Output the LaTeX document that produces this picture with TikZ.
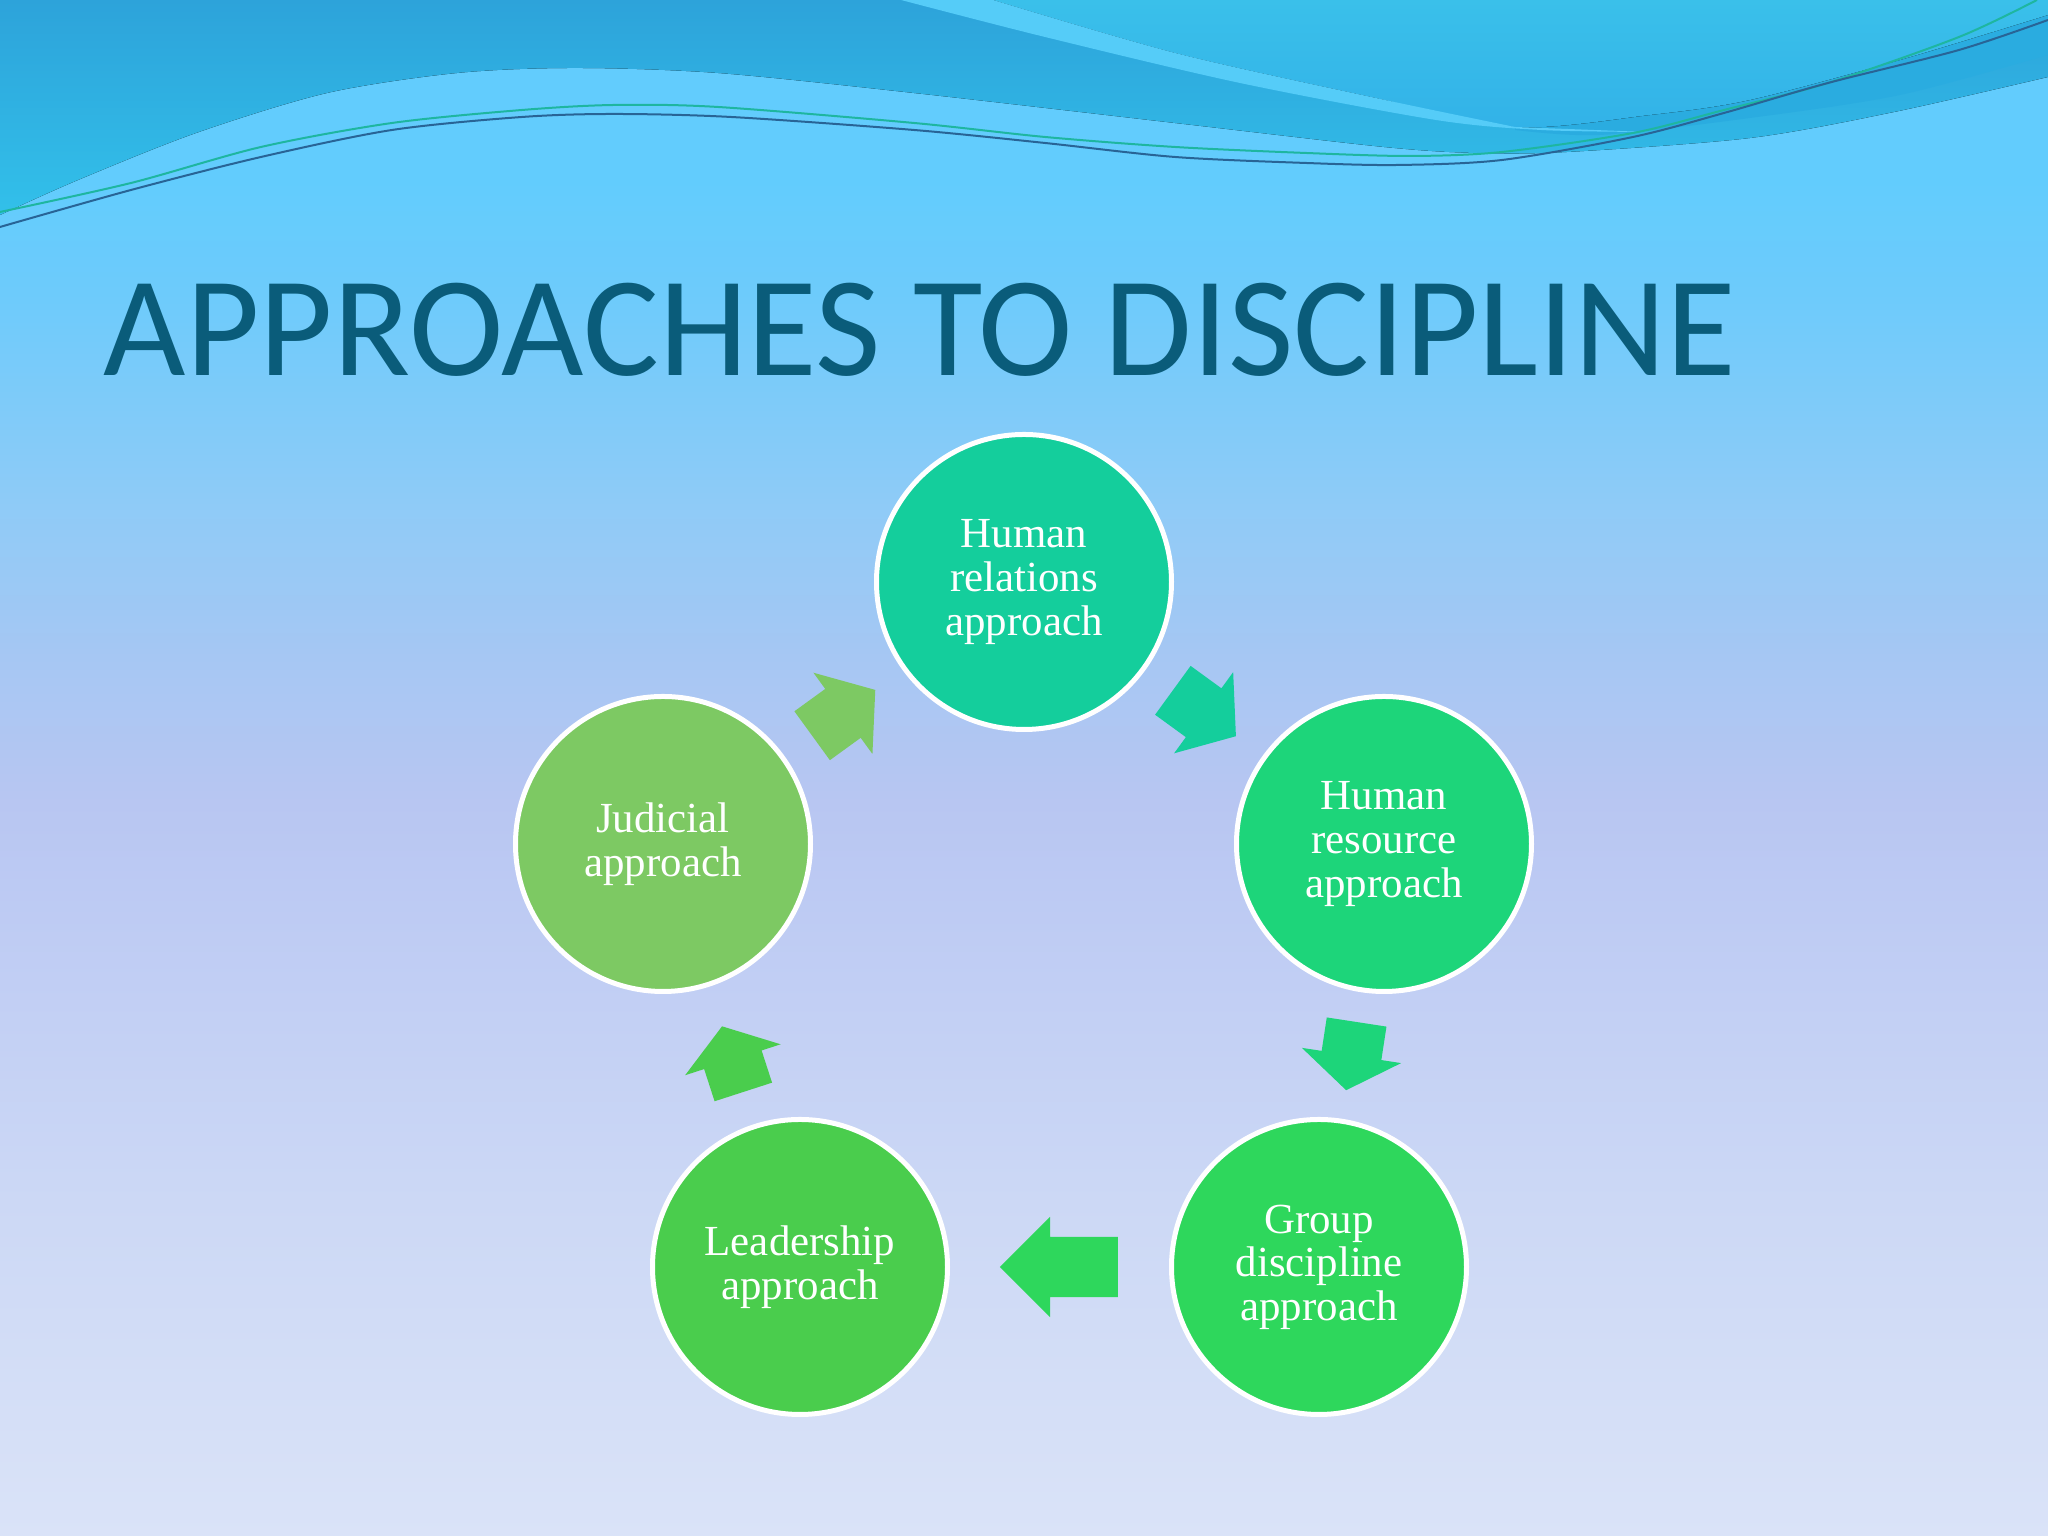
\documentclass[tikz,border=0pt]{standalone}
\usepackage{fontspec}
\setmainfont{Liberation Serif}
\newfontfamily\titlefont{Carlito}
\usetikzlibrary{shapes.arrows,calc}

\definecolor{bga}{RGB}{98,204,253}
\definecolor{bgb}{RGB}{110,203,251}
\definecolor{bgc}{RGB}{142,203,247}
\definecolor{bgd}{RGB}{165,199,243}
\definecolor{bge}{RGB}{184,198,242}
\definecolor{bgf}{RGB}{194,207,244}
\definecolor{bgg}{RGB}{204,216,245}
\definecolor{bgh}{RGB}{218,227,248}
\definecolor{wavetop}{RGB}{45,163,218}
\definecolor{wavebot}{RGB}{50,192,234}
\definecolor{topright}{RGB}{58,192,234}
\definecolor{toprightb}{RGB}{50,178,232}
\definecolor{crescc}{RGB}{85,204,248}
\definecolor{bandc}{RGB}{42,172,224}
\definecolor{lineg}{RGB}{30,182,160}
\definecolor{lineb}{RGB}{40,100,150}
\definecolor{titlec}{RGB}{10,92,122}
\definecolor{relc}{RGB}{20,206,156}
\definecolor{resc}{RGB}{29,213,122}
\definecolor{grpc}{RGB}{46,215,92}
\definecolor{leadc}{RGB}{74,205,77}
\definecolor{judc}{RGB}{125,201,99}

\newcommand{\apnode}[4]{\node [approach, fill=#4] (#1) at (#2) {#3}}

\tikzset{
  approach/.style={circle, draw=white, line width=0.05cm, minimum size=2.95cm,
    inner sep=0pt, text=white, align=center, font=\fontsize{12.2}{12.4}\selectfont},
  blockarrow/.style={single arrow, draw=none, fill=#1, minimum width=0.99cm,
    inner xsep=0pt, inner ysep=0.295cm, single arrow head extend=0.2cm,
    sloped, allow upside down, anchor=tail, pos=0.23},
}

\begin{document}
\begin{tikzpicture}

\useasboundingbox (0,0) rectangle (20.48,15.36);
\clip (0,0) rectangle (20.48,15.36);

% background
\foreach \ya/\yb/\ca/\cb in {15.36/13.56/bga/bga, 13.56/12.36/bga/bgb,
    12.36/10.36/bgb/bgc, 10.36/8.86/bgc/bgd, 8.86/7.36/bgd/bge,
    7.36/5.36/bge/bgf, 5.36/3.36/bgf/bgg, 3.36/0/bgg/bgh}
  \fill[top color=\ca, bottom color=\cb] (0,\ya) rectangle (20.48,\yb-0.02);

% waves on top
\fill[top color=wavetop, bottom color=wavebot] (0,15.36) -- plot[smooth] coordinates {(0,13.21) (0.78,13.56) (1.96,14.03) (3.27,14.43) (4.57,14.63) (5.75,14.68) (7.18,14.63) (9.14,14.43) (11.75,14.13) (13.84,13.89) (14.76,13.83) (15.67,13.84) (17.50,13.98) (18.94,14.24) (20.48,14.59)} -- (20.48,15.36) -- cycle;
\fill[bandc] plot[smooth] coordinates {(15.15,14.09) (16.50,14.21) (17.50,14.36) (19.00,14.76) (20.48,15.21)} -- plot[smooth] coordinates {(20.48,14.81) (19.00,14.41) (17.50,14.18) (16.00,14.01) (15.15,14.06)} -- cycle;
\fill[top color=topright, bottom color=toprightb] (9.93,15.36) -- plot[smooth] coordinates {(9.93,15.36) (11.75,14.83) (13.71,14.39) (15.15,14.09) (16.50,14.21) (17.50,14.36) (19.00,14.76) (20.48,15.21)} -- (20.48,15.36) -- cycle;
\fill[crescc] plot[smooth] coordinates {(9.01,15.36) (10.45,14.99) (12.40,14.53) (14.36,14.16) (15.41,14.06) (16.46,14.04)} -- plot[smooth] coordinates {(15.15,14.09) (13.71,14.39) (11.75,14.83) (9.93,15.36)} -- cycle;
\draw[lineg, line width=0.02cm] plot[smooth] coordinates {(0,13.24) (1.31,13.53) (2.61,13.89) (3.92,14.13) (5.22,14.26) (6.14,14.31) (7.18,14.29) (9.14,14.13) (10.45,13.99) (11.75,13.89) (13.06,13.83) (14.10,13.80) (15.02,13.84) (16.33,14.03) (17.24,14.26) (18.28,14.53) (19.59,14.99) (20.37,15.36)};
\draw[lineb, line width=0.02cm] plot[smooth] coordinates {(0,13.09) (1.31,13.46) (2.61,13.79) (3.92,14.06) (5.22,14.19) (6.14,14.22) (7.31,14.19) (9.14,14.06) (10.45,13.93) (11.75,13.79) (13.06,13.73) (13.98,13.71) (15.02,13.76) (16.33,13.99) (17.24,14.23) (18.28,14.53) (19.59,14.86) (20.48,15.16)};

\node [anchor=base west, inner sep=0pt, text=titlec, font=\titlefont\fontsize{40.5}{40.5}\selectfont] (title) at (1.03,11.60) {APPROACHES TO DISCIPLINE};

\apnode{HRel}{10.24,9.54}{Human\\relations\\approach}{relc};
\apnode{HRes}{13.84,6.92}{Human\\resource\\approach}{resc};
\apnode{Group}{13.19,2.69}{Group\\discipline\\approach}{grpc};
\apnode{Lead}{8.00,2.69}{Leadership\\approach}{leadc};
\apnode{Jud}{6.63,6.92}{Judicial\\approach}{judc};

\path (HRel) -- node [blockarrow=relc, minimum height=0.78cm, single arrow tip angle=103] (relres) {} (HRes);
\path (HRes) -- node [blockarrow=resc, minimum height=0.69cm, single arrow tip angle=110] (resgrp) {} (Group);
\path (Group) -- node [blockarrow=grpc, minimum height=1.18cm, single arrow tip angle=90] (grplead) {} (Lead);
\path (Lead) -- node [blockarrow=leadc, minimum height=0.69cm, single arrow tip angle=110] (leadjud) {} (Jud);
\path (Jud) -- node [blockarrow=judc, minimum height=0.78cm, single arrow tip angle=103] (judrel) {} (HRel);

\end{tikzpicture}
\end{document}
